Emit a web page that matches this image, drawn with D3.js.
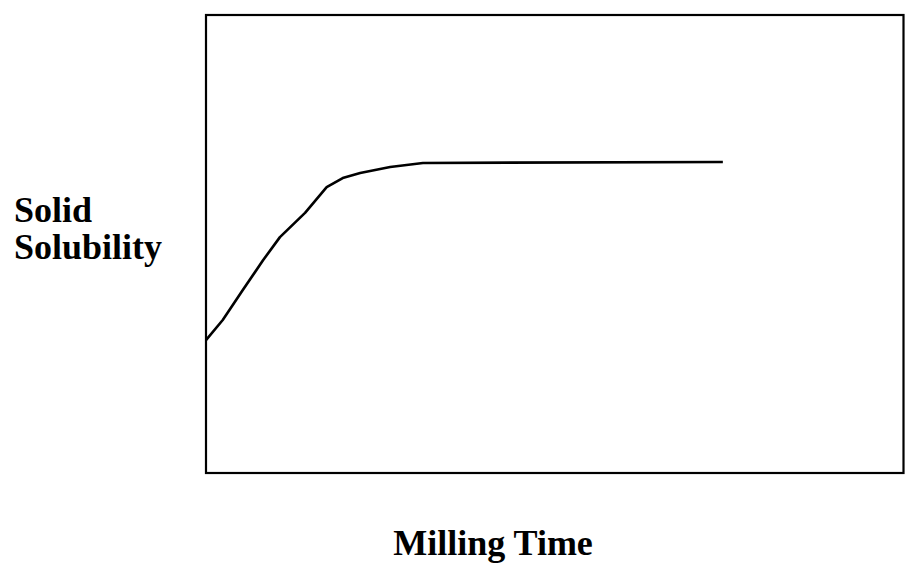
<!DOCTYPE html>
<html>
<head>
  <meta charset="utf-8">
  <script src="https://d3js.org/d3.v7.min.js"></script>
  <style>
    body { margin: 0; background: #fff; }
    text { font-family: "Liberation Serif", "Times New Roman", serif; font-weight: bold; fill: #000; }
  </style>
</head>
<body>
  <script>
    "use strict";

    // milling time (arbitrary units) and solid solubility (arbitrary units)
    var millingTime = [0, 2.4, 5.3, 8.2, 10.6, 14.2, 17.3, 19.6, 22.1, 26.4, 31.1, 74.1];
    var solubility  = [29.0, 33.4, 40.0, 46.5, 51.5, 56.8, 62.4, 64.4, 65.5, 66.8, 67.7, 67.9];
    var yLabel = ["Solid", "Solubility"];
    var xLabel = "Milling Time";

    var width = 919, height = 573;
    var plotLeft = 206, plotRight = 903.5, plotTop = 15, plotBottom = 473;

    var svg = d3.select("body")
      .append("svg")
        .attr("width", width)
        .attr("height", height);

    var x = d3.scaleLinear().domain([0, 100]).range([plotLeft, plotRight]);
    var y = d3.scaleLinear().domain([0, 100]).range([plotBottom, plotTop]);

    // plot frame
    svg.append("rect")
      .attr("x", x(0))
      .attr("y", y(100))
      .attr("width", x(100) - x(0))
      .attr("height", y(0) - y(100))
      .attr("fill", "none")
      .attr("stroke", "#000")
      .attr("stroke-width", 2.2);

    var data = millingTime.map(function (t, i) { return [t, solubility[i]]; });

    var line = d3.line()
      .x(function (d) { return x(d[0]); })
      .y(function (d) { return y(d[1]); });

    svg.append("path")
      .datum(data)
      .attr("d", line)
      .attr("fill", "none")
      .attr("stroke", "#000")
      .attr("stroke-width", 2.6)
      .attr("stroke-linejoin", "round");

    // axis labels
    svg.selectAll(".ylab")
      .data(yLabel)
      .enter()
      .append("text")
        .attr("class", "ylab")
        .attr("x", 14)
        .attr("y", function (d, i) { return 222 + i * 37; })
        .style("font-size", "36px")
        .text(function (d) { return d; });

    svg.append("text")
      .attr("x", 493)
      .attr("y", 555)
      .attr("text-anchor", "middle")
      .style("font-size", "36px")
      .text(xLabel);
  </script>
</body>
</html>
